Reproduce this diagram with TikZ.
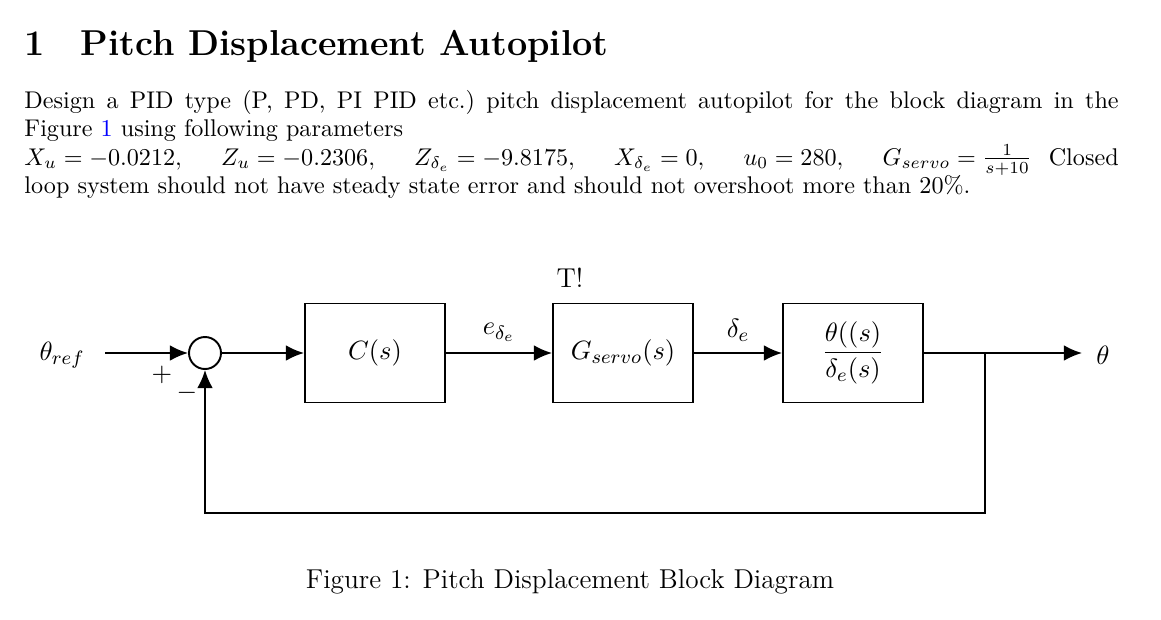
\documentclass[tikz,border=0pt]{standalone}
\usepackage{amsmath}
\usepackage{xcolor}
\usetikzlibrary{arrows.meta}
\begin{document}
\begin{tikzpicture}[x=0.414pt,y=-0.414pt,
  font=\fontsize{11.3}{13.5}\selectfont,
  blk/.style={draw,line width=0.8pt,minimum width=140*0.414pt,minimum height=99*0.414pt,inner sep=0pt},
  sig/.style={line width=0.8pt,-{Latex[length=7.5pt,width=6.5pt]}},
  txt/.style={anchor=base west,inner sep=0pt,font=\normalsize}]
\useasboundingbox (0,0) rectangle (1161,619);
\node[txt,font=\fontsize{14.9}{18}\selectfont] (title) at (24,55) {\bfseries 1\hspace{1em}Pitch Displacement Autopilot};
\node[txt] (l1) at (24,108) {\hbox to 453pt{Design a PID type (P, PD, PI PID etc.)\ pitch displacement autopilot for the block diagram in the}};
\node[txt] (l2) at (24,136) {Figure \textcolor{blue}{1} using following parameters};
\node[txt] (l3) at (24,165) {\hbox to 453pt{$X_u=-0.0212,$\hspace{1em plus 1fil}$Z_u=-0.2306,$\hspace{1em plus 1fil}$Z_{\delta_e}=-9.8175,$\hspace{1em plus 1fil}$X_{\delta_e}=0,$\hspace{1em plus 1fil}$u_0=280,$\hspace{1em plus 1fil}$G_{servo}=\frac{1}{s+10}$\hspace{0.4em plus 0.5fil}Closed}};
\node[txt] (l4) at (24,193) {loop system should not have steady state error and should not overshoot more than 20\%.};

\node (ref) at (62,355) {$\theta_{ref}$};
\node[draw,circle,line width=0.8pt,minimum size=32*0.414pt,inner sep=0pt] (sum) at (205,353) {};
\node[blk] (C) at (375,353) {$C(s)$};
\node[blk] (G) at (623,353) {$G_{servo}(s)$};
\node[blk] (P) at (853,353) {$\dfrac{\theta((s)}{\delta_e(s)}$};
\coordinate (br) at (985,353);
\coordinate (outend) at (1082,353);
\node (th) at (1103,355) {$\theta$};
\coordinate (fb1) at (985,513);
\coordinate (fb2) at (205,513);

\draw[sig] (105,353) -- (sum.west);
\draw[sig] (sum) -- (C);
\draw[sig] (C) -- node[above=1pt] {$e_{\delta_e}$} (G);
\draw[sig] (G) -- node[above=1pt] {$\delta_e$} (P);
\draw[sig] (P) -- (outend);
\draw[sig] (br) -- (fb1) -- (fb2) -- (sum.south);
\node (plus) at (162,375) {$+$};
\node (minus) at (187,393) {$-$};
\node (T) at (570,278) {T!};
\node (cap) at (570,582) {Figure 1: Pitch Displacement Block Diagram};
\end{tikzpicture}
\end{document}
